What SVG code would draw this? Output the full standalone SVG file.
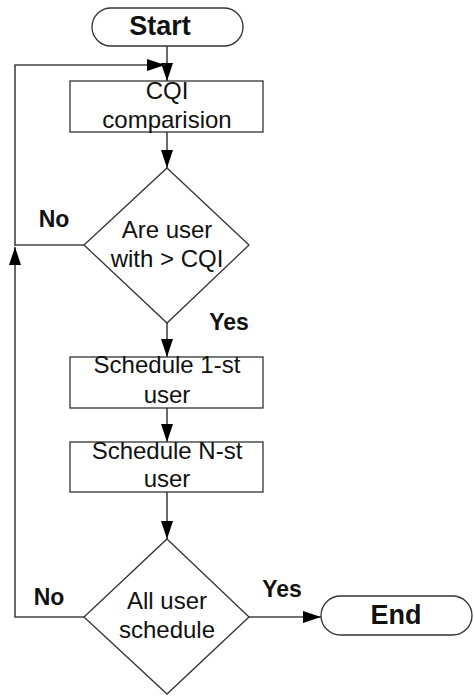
<svg xmlns="http://www.w3.org/2000/svg" width="474" height="696" viewBox="0 0 474 696">
<defs>
<style>
.shape{fill:#fff;stroke:#333;stroke-width:1.3}
.edge{fill:none;stroke:#444;stroke-width:1.6}
.t{font-family:"Liberation Sans",Arial,sans-serif;font-size:24px;fill:#111;text-anchor:middle}
.b{font-family:"Liberation Sans",Arial,sans-serif;font-weight:bold;fill:#111;text-anchor:middle}
</style>
<marker id="ah" markerUnits="userSpaceOnUse" markerWidth="19" markerHeight="13" refX="18" refY="6" orient="auto">
<path d="M0,0 L18,6 L0,12 z" fill="#000"/>
</marker>
</defs>
<rect width="474" height="696" fill="#fff"/>
<g id="connectors">
<line class="edge" x1="167" y1="46" x2="167" y2="81" marker-end="url(#ah)"/>
<polyline class="edge" points="15,246 15,65 165,65" marker-end="url(#ah)"/>
<line class="edge" x1="167" y1="132" x2="167" y2="168" marker-end="url(#ah)"/>
<line class="edge" x1="84" y1="245" x2="15" y2="245"/>
<line class="edge" x1="167" y1="323" x2="167" y2="357" marker-end="url(#ah)"/>
<line class="edge" x1="167" y1="408" x2="167" y2="442" marker-end="url(#ah)"/>
<line class="edge" x1="167" y1="492" x2="167" y2="539" marker-end="url(#ah)"/>
<polyline class="edge" points="84,617 15,617 15,300"/>
<line class="edge" x1="15" y1="300" x2="15" y2="247" marker-end="url(#ah)"/>
<line class="edge" x1="249" y1="617" x2="321" y2="617" marker-end="url(#ah)"/>
<text class="b" x="54" y="227" font-size="23">No</text>
<text class="b" x="229" y="330" font-size="23">Yes</text>
<text class="b" x="49" y="605" font-size="23">No</text>
<text class="b" x="282" y="597" font-size="23">Yes</text>
</g>
<g id="start">
<rect class="shape" x="92" y="8" width="151" height="38" rx="19"/>
<text class="b" x="160" y="35" font-size="27">Start</text>
</g>
<g id="cqi">
<rect class="shape" x="70" y="81" width="193" height="51"/>
<text class="t" x="167" y="99">CQI</text>
<text class="t" x="167" y="128">comparision</text>
</g>
<g id="decision1">
<polygon class="shape" points="167,168 249,245 167,323 84,245"/>
<text class="t" x="167" y="238">Are user</text>
<text class="t" x="167" y="267">with &gt; CQI</text>
</g>
<g id="sched1">
<rect class="shape" x="70" y="357" width="193" height="51"/>
<text class="t" x="167" y="373">Schedule 1-st</text>
<text class="t" x="167" y="403">user</text>
</g>
<g id="schedN">
<rect class="shape" x="70" y="442" width="193" height="50"/>
<text class="t" x="167" y="459">Schedule N-st</text>
<text class="t" x="167" y="487">user</text>
</g>
<g id="decision2">
<polygon class="shape" points="167,539 249,617 167,694 84,617"/>
<text class="t" x="167" y="609">All user</text>
<text class="t" x="167" y="638">schedule</text>
</g>
<g id="end">
<rect class="shape" x="321" y="596" width="151" height="39" rx="19.5"/>
<text class="b" x="396" y="624" font-size="27">End</text>
</g>
</svg>
